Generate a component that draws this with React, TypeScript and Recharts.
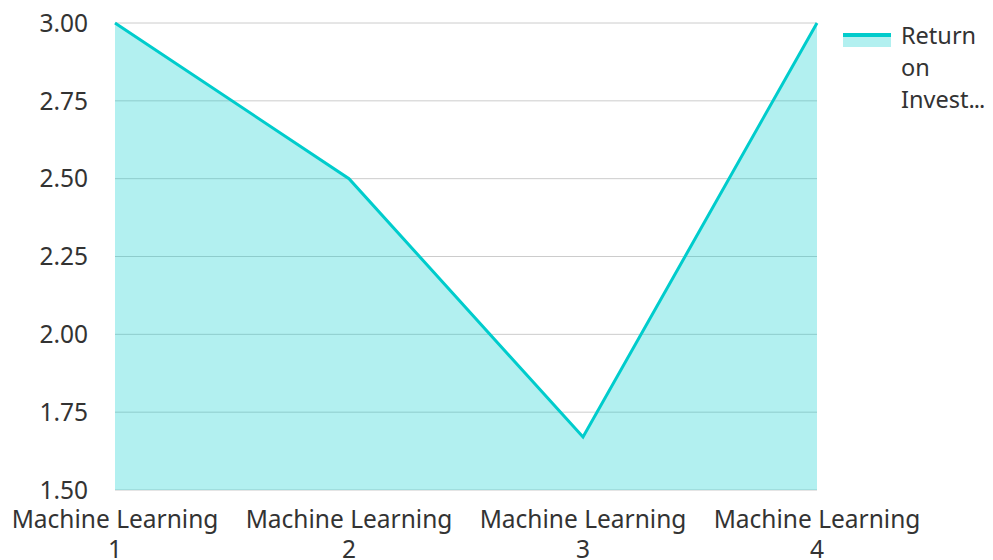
import { AreaChart, Area, XAxis, YAxis, CartesianGrid, Legend } from 'recharts';

const categories = ['Machine Learning 1', 'Machine Learning 2', 'Machine Learning 3', 'Machine Learning 4'];
const roiValues = [3.0, 2.5, 1.67, 3.0];
const yTicks = [1.5, 1.75, 2.0, 2.25, 2.5, 2.75, 3.0];
const seriesName = 'Return on Investment';
const legendLines = ['Return', 'on', 'Invest'];
const legendEllipsis = '...';

const COLOR = '#00cccc';
const FONT = '"Noto Sans", "Open Sans", sans-serif';
const FS = 24.5;

const chartData = categories.map((name, i) => ({ name, roi: roiValues[i] }));

const CategoryTick = (props: any) => {
  const { x, y, payload } = props;
  const label: string = payload.value;
  const cut = label.lastIndexOf(' ');
  const first = label.slice(0, cut);
  const second = label.slice(cut + 1);
  return (
    <text x={x} y={y} textAnchor="middle" fill="#333" fontSize={FS} fontFamily={FONT}>
      <tspan x={x} y={y + 36}>{first}</tspan>
      <tspan x={x} y={y + 66}>{second}</tspan>
    </text>
  );
};

const SideLegend = () => (
  <svg width={150} height={110} style={{ overflow: 'visible', display: 'block' }}>
    <rect x={0} y={14} width={48} height={12} fill={COLOR} fillOpacity={0.3} />
    <line x1={0} y1={14} x2={48} y2={14} stroke={COLOR} strokeWidth={4} />
    {legendLines.map((l, i) => (
      <text key={l} x={58} y={23 + i * 32} fontFamily={FONT} fontSize={23.5} fill="#333">
        {l}
        {i === legendLines.length - 1 && <tspan letterSpacing={-1}>{legendEllipsis}</tspan>}
      </text>
    ))}
  </svg>
);

export default function App() {
  return (
    <>
      <style>{'body{overflow:hidden}'}</style>
      <AreaChart
        width={985}
        height={552}
        data={chartData}
        margin={{ top: 15, right: 26, left: 0, bottom: 0 }}
        style={{ fontFamily: FONT }}
      >
        <CartesianGrid vertical={false} stroke="#cccccc" />
        <XAxis
          dataKey="name"
          axisLine={false}
          tickLine={false}
          tickSize={0}
          height={70}
          interval={0}
          tick={<CategoryTick />}
        />
        <YAxis
          domain={[1.5, 3]}
          ticks={yTicks}
          width={107}
          axisLine={false}
          tickLine={false}
          tickSize={0}
          tickMargin={27}
          tickFormatter={(v: number) => v.toFixed(2)}
          tick={{ fontSize: FS, fill: '#333', fontFamily: FONT }}
        />
        <Legend
          layout="vertical"
          align="right"
          verticalAlign="top"
          content={<SideLegend />}
          wrapperStyle={{ left: 835, top: 13, width: 150 }}
        />
        <Area
          type="linear"
          dataKey="roi"
          name={seriesName}
          stroke={COLOR}
          strokeWidth={3}
          fill={COLOR}
          fillOpacity={0.3}
          dot={false}
          activeDot={false}
          isAnimationActive={false}
        />
      </AreaChart>
    </>
  );
}
